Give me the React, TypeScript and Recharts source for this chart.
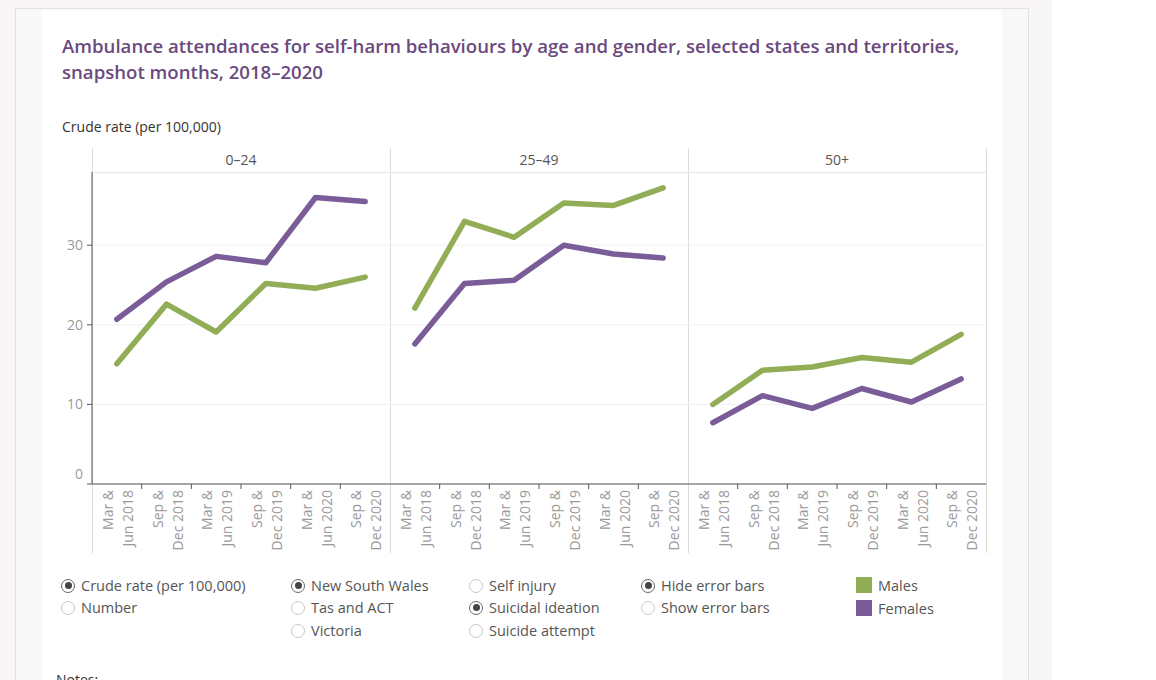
import React from 'react';
import { LineChart, Line, XAxis, YAxis, CartesianGrid } from 'recharts';

// snapshot periods, split over two lines on the rotated axis
const periods = ['Mar & Jun 2018', 'Sep & Dec 2018', 'Mar & Jun 2019', 'Sep & Dec 2019', 'Mar & Jun 2020', 'Sep & Dec 2020'];
const periodTop = ['Mar &', 'Sep &', 'Mar &', 'Sep &', 'Mar &', 'Sep &'];
const periodBottom = ['Jun 2018', 'Dec 2018', 'Jun 2019', 'Dec 2019', 'Jun 2020', 'Dec 2020'];

const ageGroups = ['0–24', '25–49', '50+'];

// crude rate per 100,000
const males0to24 = [15.1, 22.6, 19.1, 25.2, 24.6, 26.0];
const females0to24 = [20.7, 25.4, 28.6, 27.8, 36.0, 35.5];
const males25to49 = [22.1, 33.0, 31.0, 35.3, 35.0, 37.2];
const females25to49 = [17.6, 25.2, 25.6, 30.0, 28.9, 28.4];
const males50plus = [10.0, 14.3, 14.7, 15.9, 15.3, 18.8];
const females50plus = [7.7, 11.1, 9.5, 12.0, 10.3, 13.2];

const yTicks = [0, 10, 20, 30];

const maleSeries = [males0to24, males25to49, males50plus];
const femaleSeries = [females0to24, females25to49, females50plus];

const GREEN = '#91ae57';
const PURPLE = '#7a5c98';
const FONT = '"Open Sans", "Noto Sans", sans-serif';

const PLOT_LEFT = 92;
const PANEL_W = 298;
const PLOT_TOP = 172;
const PLOT_H = 312;
const XAXIS_H = 72;
const Y_AXIS_W = 52;
const HALF_BAND = PANEL_W / periods.length / 2;

const XTick = (props: any) => {
  const { x, index } = props;
  return (
    <g>
      <text
        transform={`translate(${x},${PLOT_H}) rotate(-90)`}
        textAnchor="end"
        fill="#9a9a9a"
        fontSize={14}
        fontFamily={FONT}
      >
        <tspan x={-6} y={-4}>{periodTop[index]}</tspan>
        <tspan x={-6} y={16}>{periodBottom[index]}</tspan>
      </text>
      {index < periods.length - 1 && (
        <line x1={x + HALF_BAND} x2={x + HALF_BAND} y1={PLOT_H} y2={PLOT_H + 5} stroke="#555" />
      )}
    </g>
  );
};

const YTick = (props: any) => {
  const { x, y, payload } = props;
  const shift = payload.value === 0 ? -10 : 0;
  return (
    <text x={x - 2} y={y + shift} dy={5} textAnchor="end" fill="#9a9a9a" fontSize={14} fontFamily={FONT}>
      {payload.value}
    </text>
  );
};

const Panel = ({ idx }: { idx: number }) => {
  const data = periods.map((p, i) => ({
    period: p,
    males: maleSeries[idx][i],
    females: femaleSeries[idx][i],
  }));
  const first = idx === 0;
  const width = first ? PANEL_W + Y_AXIS_W : PANEL_W;
  const left = PLOT_LEFT + idx * PANEL_W - (first ? Y_AXIS_W : 0);
  return (
    <div style={{ position: 'absolute', left, top: PLOT_TOP }}>
      <LineChart width={width} height={PLOT_H + XAXIS_H} data={data} margin={{ top: 0, right: 0, bottom: 0, left: 0 }}>
        <CartesianGrid vertical={false} stroke="#f0f0f0" />
        <XAxis
          dataKey="period"
          type="category"
          height={XAXIS_H}
          interval={0}
          padding={{ left: HALF_BAND, right: HALF_BAND }}
          tickLine={false}
          tickSize={0}
          axisLine={{ stroke: '#555' }}
          tick={<XTick />}
        />
        <YAxis
          hide={!first}
          width={Y_AXIS_W}
          domain={[0, 39.2]}
          ticks={yTicks}
          allowDataOverflow
          axisLine={{ stroke: '#555' }}
          tickLine={{ stroke: '#555' }}
          tickSize={5}
          tick={<YTick />}
        />
        <Line dataKey="males" stroke={GREEN} strokeWidth={5.5} dot={false} isAnimationActive={false} strokeLinejoin="round" strokeLinecap="round" />
        <Line dataKey="females" stroke={PURPLE} strokeWidth={5.5} dot={false} isAnimationActive={false} strokeLinejoin="round" strokeLinecap="round" />
      </LineChart>
    </div>
  );
};

const Radio = ({ x, y, label, on }: { x: number; y: number; label: string; on?: boolean }) => (
  <div style={{ position: 'absolute', left: x, top: y, display: 'flex', alignItems: 'center', fontSize: 14.5, color: '#555' }}>
    <div
      style={{
        width: 14,
        height: 14,
        borderRadius: '50%',
        border: `1px solid ${on ? '#666' : '#c8c8c8'}`,
        boxSizing: 'border-box',
        display: 'flex',
        alignItems: 'center',
        justifyContent: 'center',
        marginRight: 6,
      }}
    >
      {on && <div style={{ width: 7, height: 7, borderRadius: '50%', background: '#444' }} />}
    </div>
    {label}
  </div>
);

export default function App() {
  const vline = (x: number) => (
    <div key={x} style={{ position: 'absolute', left: x, top: 148, width: 1, height: 405, background: '#dcdcdc' }} />
  );
  return (
    <div style={{ position: 'fixed', left: 0, top: 0, width: 1156, height: 680, background: '#fff', overflow: 'hidden', fontFamily: FONT }}>
      <div style={{ position: 'absolute', left: 0, top: 0, width: 1052, height: 680, background: '#f8f6f7' }} />
      <div style={{ position: 'absolute', left: 15, top: 8, width: 1012, height: 700, border: '1px solid #e3e1e2', background: '#f9f8f9' }} />
      <div style={{ position: 'absolute', left: 42, top: 10, width: 960, height: 680, background: '#fff' }} />

      <div style={{ position: 'absolute', left: 62, top: 33, width: 925, fontSize: 18.6, fontWeight: 600, lineHeight: '26px', color: '#6a4a7e' }}>
        Ambulance attendances for self-harm behaviours by age and gender, selected states and territories, snapshot months, 2018–2020
      </div>

      <div style={{ position: 'absolute', left: 62, top: 117, fontSize: 14, color: '#333' }}>Crude rate (per 100,000)</div>

      {[PLOT_LEFT, PLOT_LEFT + PANEL_W, PLOT_LEFT + 2 * PANEL_W, PLOT_LEFT + 3 * PANEL_W].map(vline)}
      <div style={{ position: 'absolute', left: PLOT_LEFT, top: PLOT_TOP, width: 3 * PANEL_W, height: 1, background: '#dcdcdc' }} />
      {ageGroups.map((g, i) => (
        <div
          key={g}
          style={{ position: 'absolute', left: PLOT_LEFT + i * PANEL_W, top: 150, width: PANEL_W, textAlign: 'center', fontSize: 14, color: '#555' }}
        >
          {g}
        </div>
      ))}

      {ageGroups.map((g, i) => (
        <Panel key={g} idx={i} />
      ))}

      <Radio x={61} y={576} label="Crude rate (per 100,000)" on />
      <Radio x={61} y={598} label="Number" />
      <Radio x={291} y={576} label="New South Wales" on />
      <Radio x={291} y={598} label="Tas and ACT" />
      <Radio x={291} y={621} label="Victoria" />
      <Radio x={469} y={576} label="Self injury" />
      <Radio x={469} y={598} label="Suicidal ideation" on />
      <Radio x={469} y={621} label="Suicide attempt" />
      <Radio x={641} y={576} label="Hide error bars" on />
      <Radio x={641} y={598} label="Show error bars" />

      <div style={{ position: 'absolute', left: 856, top: 577, width: 16, height: 16, background: GREEN }} />
      <div style={{ position: 'absolute', left: 878, top: 576, fontSize: 14.5, color: '#555' }}>Males</div>
      <div style={{ position: 'absolute', left: 856, top: 600, width: 16, height: 16, background: PURPLE }} />
      <div style={{ position: 'absolute', left: 878, top: 599, fontSize: 14.5, color: '#555' }}>Females</div>

      <div style={{ position: 'absolute', left: 56, top: 670, fontSize: 14, color: '#333' }}>Notes:</div>
    </div>
  );
}
